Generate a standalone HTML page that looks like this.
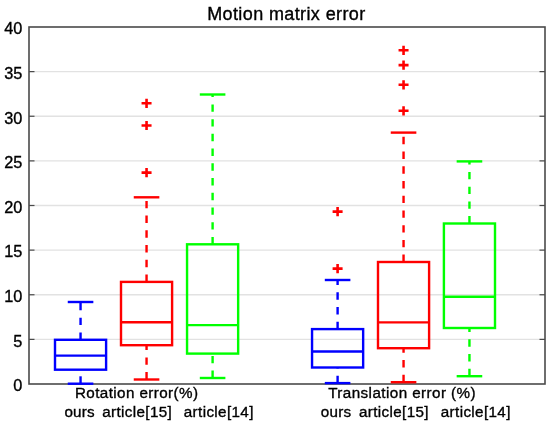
<!DOCTYPE html>
<html><head><meta charset="utf-8"><style>
html,body{margin:0;padding:0;background:#fff;}
svg{display:block;}
text{font-family:"Liberation Sans",sans-serif;fill:#000;stroke:#000;stroke-width:0.35px;}
</style></head><body>
<svg width="550" height="428" viewBox="0 0 550 428">
<rect width="550" height="428" fill="#fff"/>
<line x1="29" y1="339.38" x2="545" y2="339.38" stroke="#e2e2e2" stroke-width="1.3"/>
<line x1="29" y1="294.75" x2="545" y2="294.75" stroke="#e2e2e2" stroke-width="1.3"/>
<line x1="29" y1="250.12" x2="545" y2="250.12" stroke="#e2e2e2" stroke-width="1.3"/>
<line x1="29" y1="205.50" x2="545" y2="205.50" stroke="#e2e2e2" stroke-width="1.3"/>
<line x1="29" y1="160.88" x2="545" y2="160.88" stroke="#e2e2e2" stroke-width="1.3"/>
<line x1="29" y1="116.25" x2="545" y2="116.25" stroke="#e2e2e2" stroke-width="1.3"/>
<line x1="29" y1="71.62" x2="545" y2="71.62" stroke="#e2e2e2" stroke-width="1.3"/>
<rect x="29" y="27" width="516" height="357" fill="none" stroke="#4a4a4a" stroke-width="1.6"/>
<line x1="29" y1="339.38" x2="34.5" y2="339.38" stroke="#4a4a4a" stroke-width="1.2"/>
<line x1="545" y1="339.38" x2="539.5" y2="339.38" stroke="#4a4a4a" stroke-width="1.2"/>
<line x1="29" y1="294.75" x2="34.5" y2="294.75" stroke="#4a4a4a" stroke-width="1.2"/>
<line x1="545" y1="294.75" x2="539.5" y2="294.75" stroke="#4a4a4a" stroke-width="1.2"/>
<line x1="29" y1="250.12" x2="34.5" y2="250.12" stroke="#4a4a4a" stroke-width="1.2"/>
<line x1="545" y1="250.12" x2="539.5" y2="250.12" stroke="#4a4a4a" stroke-width="1.2"/>
<line x1="29" y1="205.50" x2="34.5" y2="205.50" stroke="#4a4a4a" stroke-width="1.2"/>
<line x1="545" y1="205.50" x2="539.5" y2="205.50" stroke="#4a4a4a" stroke-width="1.2"/>
<line x1="29" y1="160.88" x2="34.5" y2="160.88" stroke="#4a4a4a" stroke-width="1.2"/>
<line x1="545" y1="160.88" x2="539.5" y2="160.88" stroke="#4a4a4a" stroke-width="1.2"/>
<line x1="29" y1="116.25" x2="34.5" y2="116.25" stroke="#4a4a4a" stroke-width="1.2"/>
<line x1="545" y1="116.25" x2="539.5" y2="116.25" stroke="#4a4a4a" stroke-width="1.2"/>
<line x1="29" y1="71.62" x2="34.5" y2="71.62" stroke="#4a4a4a" stroke-width="1.2"/>
<line x1="545" y1="71.62" x2="539.5" y2="71.62" stroke="#4a4a4a" stroke-width="1.2"/>
<g stroke="#0000ff" stroke-width="2.4" fill="none">
<line x1="80.55" y1="339.8" x2="80.55" y2="302.0" stroke-dasharray="7.4 7.32"/>
<line x1="80.55" y1="383.7" x2="80.55" y2="369.7" stroke-dasharray="7.4 7.32"/>
<line x1="67.75" y1="302.0" x2="93.35" y2="302.0"/>
<line x1="67.75" y1="383.7" x2="93.35" y2="383.7"/>
<rect x="55.00" y="339.8" width="51.10" height="29.90"/>
<line x1="55.00" y1="355.6" x2="106.10" y2="355.6"/>
</g>
<g stroke="#ff0000" stroke-width="2.4" fill="none">
<line x1="146.55" y1="281.9" x2="146.55" y2="197.3" stroke-dasharray="7.4 7.32"/>
<line x1="146.55" y1="379.5" x2="146.55" y2="345.2" stroke-dasharray="7.4 7.32"/>
<line x1="133.75" y1="197.3" x2="159.35" y2="197.3"/>
<line x1="133.75" y1="379.5" x2="159.35" y2="379.5"/>
<rect x="121.00" y="281.9" width="51.10" height="63.30"/>
<line x1="121.00" y1="322.2" x2="172.10" y2="322.2"/>
</g>
<path d="M141.55 103.3h10M146.55 98.70v9.2" stroke="#ff0000" stroke-width="2.6" fill="none"/>
<path d="M141.55 125.5h10M146.55 120.90v9.2" stroke="#ff0000" stroke-width="2.6" fill="none"/>
<path d="M141.55 172.6h10M146.55 168.00v9.2" stroke="#ff0000" stroke-width="2.6" fill="none"/>
<g stroke="#00ff00" stroke-width="2.4" fill="none">
<line x1="212.6" y1="244.3" x2="212.6" y2="94.5" stroke-dasharray="7.4 7.32"/>
<line x1="212.6" y1="378.0" x2="212.6" y2="353.6" stroke-dasharray="7.4 7.32"/>
<line x1="199.80" y1="94.5" x2="225.40" y2="94.5"/>
<line x1="199.80" y1="378.0" x2="225.40" y2="378.0"/>
<rect x="187.05" y="244.3" width="51.10" height="109.30"/>
<line x1="187.05" y1="325.1" x2="238.15" y2="325.1"/>
</g>
<g stroke="#0000ff" stroke-width="2.4" fill="none">
<line x1="337.6" y1="329.1" x2="337.6" y2="280.0" stroke-dasharray="7.4 7.32"/>
<line x1="337.6" y1="383.1" x2="337.6" y2="367.5" stroke-dasharray="7.4 7.32"/>
<line x1="324.80" y1="280.0" x2="350.40" y2="280.0"/>
<line x1="324.80" y1="383.1" x2="350.40" y2="383.1"/>
<rect x="312.05" y="329.1" width="51.10" height="38.40"/>
<line x1="312.05" y1="351.5" x2="363.15" y2="351.5"/>
</g>
<path d="M332.60 268.6h10M337.6 264.00v9.2" stroke="#ff0000" stroke-width="2.6" fill="none"/>
<path d="M332.60 211.6h10M337.6 207.00v9.2" stroke="#ff0000" stroke-width="2.6" fill="none"/>
<g stroke="#ff0000" stroke-width="2.4" fill="none">
<line x1="403.55" y1="262.0" x2="403.55" y2="132.6" stroke-dasharray="7.4 7.32"/>
<line x1="403.55" y1="382.2" x2="403.55" y2="348.2" stroke-dasharray="7.4 7.32"/>
<line x1="390.75" y1="132.6" x2="416.35" y2="132.6"/>
<line x1="390.75" y1="382.2" x2="416.35" y2="382.2"/>
<rect x="378.00" y="262.0" width="51.10" height="86.20"/>
<line x1="378.00" y1="322.4" x2="429.10" y2="322.4"/>
</g>
<path d="M398.55 50.3h10M403.55 45.70v9.2" stroke="#ff0000" stroke-width="2.6" fill="none"/>
<path d="M398.55 65.1h10M403.55 60.50v9.2" stroke="#ff0000" stroke-width="2.6" fill="none"/>
<path d="M398.55 84.8h10M403.55 80.20v9.2" stroke="#ff0000" stroke-width="2.6" fill="none"/>
<path d="M398.55 110.8h10M403.55 106.20v9.2" stroke="#ff0000" stroke-width="2.6" fill="none"/>
<g stroke="#00ff00" stroke-width="2.4" fill="none">
<line x1="469.45" y1="223.5" x2="469.45" y2="161.4" stroke-dasharray="7.4 7.32"/>
<line x1="469.45" y1="376.2" x2="469.45" y2="328.0" stroke-dasharray="7.4 7.32"/>
<line x1="456.65" y1="161.4" x2="482.25" y2="161.4"/>
<line x1="456.65" y1="376.2" x2="482.25" y2="376.2"/>
<rect x="443.90" y="223.5" width="51.10" height="104.50"/>
<line x1="443.90" y1="296.8" x2="495.00" y2="296.8"/>
</g>
<g font-size="16.3">
<text x="22.3" y="391.30" text-anchor="end">0</text>
<text x="22.3" y="346.68" text-anchor="end">5</text>
<text x="22.3" y="302.05" text-anchor="end">10</text>
<text x="22.3" y="257.43" text-anchor="end">15</text>
<text x="22.3" y="212.80" text-anchor="end">20</text>
<text x="22.3" y="168.18" text-anchor="end">25</text>
<text x="22.3" y="123.55" text-anchor="end">30</text>
<text x="22.3" y="78.92" text-anchor="end">35</text>
<text x="22.3" y="34.30" text-anchor="end">40</text>
</g>
<text x="207.2" y="19.6" font-size="18" textLength="158" lengthAdjust="spacing">Motion matrix error</text>
<g font-size="15.2">
<text x="75" y="398.3" textLength="123">Rotation error(%)</text>
<text x="64.4" y="416.6" textLength="30.2">ours</text>
<text x="102.2" y="416.6" textLength="69.6">article[15]</text>
<text x="183.8" y="416.6" textLength="69.6">article[14]</text>
<text x="328.2" y="398.3" textLength="147.4">Translation error (%)</text>
<text x="320.8" y="416.6" textLength="30.2">ours</text>
<text x="359" y="416.6" textLength="69.6">article[15]</text>
<text x="440.8" y="416.6" textLength="69.6">article[14]</text>
</g>
</svg>
</body></html>
